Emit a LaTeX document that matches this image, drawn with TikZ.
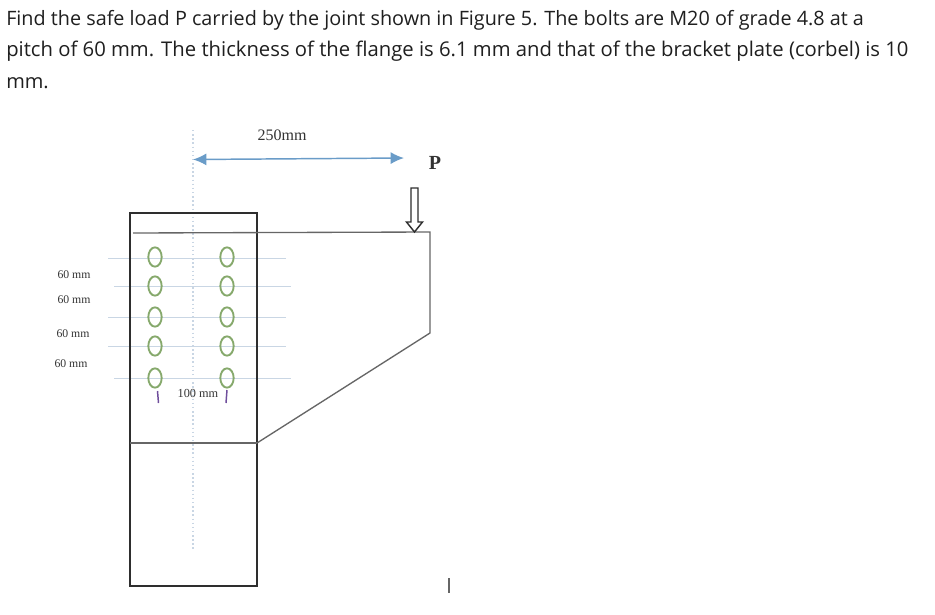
\documentclass[tikz,border=0pt]{standalone}
\usepackage{fontspec}
\setmainfont{Liberation Serif}
\newfontfamily\headfont{Open Sans}
\usetikzlibrary{arrows.meta,shapes.geometric}
\definecolor{boltgreen}{HTML}{86A96C}
\definecolor{gridblue}{HTML}{C9D6E4}
\definecolor{dimblue}{HTML}{6A9CC8}
\definecolor{markpurple}{HTML}{6F4E9C}
\definecolor{ink}{HTML}{2E2E2E}
\tikzset{
  heading/.style={anchor=base west,inner sep=0pt,text=black!88},
  bolt/.style={ellipse,draw=boltgreen,line width=1.4pt,minimum width=10pt,minimum height=14.5pt,inner sep=0pt},
  gridline/.style={draw=gridblue,line width=0.7pt},
  centreline/.style={draw=gridblue,line width=1.1pt,dotted},
  plate/.style={draw=ink,line width=1.5pt},
  thinplate/.style={draw=black!60,line width=1pt},
  pitchlabel/.style={font=\fontsize{8.8pt}{10pt}\selectfont,inner sep=0pt,text=black!80},
  dimlabel/.style={font=\fontsize{12pt}{14pt}\selectfont,inner sep=0pt,text=black!80},
  tick/.style={draw=markpurple,line width=1.1pt},
}
\begin{document}
\begin{tikzpicture}[x=0.75pt,y=-0.75pt]
\useasboundingbox (0,0) rectangle (935,614);
\fill[white] (0,0) rectangle (935,614);
% statement
\node[heading,font=\headfont\fontsize{14.85pt}{16pt}\selectfont] (t1) at (6,25) {Find the safe load P carried by the joint shown in Figure 5. The bolts are M20 of grade 4.8 at a};
\node[heading,font=\headfont\fontsize{15.2pt}{16pt}\selectfont] (t2) at (6,56) {pitch of 60 mm. The thickness of the flange is 6.1 mm and that of the bracket plate (corbel) is 10};
\node[heading,font=\headfont\fontsize{15pt}{16pt}\selectfont] (t3) at (6,88) {mm.};
% centre line
\coordinate (ctop) at (193,130);
\coordinate (cbot) at (193,550);
\draw[centreline] (ctop) -- (cbot);
% horizontal bolt lines
\foreach \n/\y/\a/\b in {1/258/108/286,2/286/114/291,3/317/108/286,4/346/108/286,5/378/114/291}{
  \coordinate (gl\n) at (\a,\y);
  \coordinate (gr\n) at (\b,\y);
  \draw[gridline] (gl\n) -- (gr\n);
}
% flange
\coordinate (fa) at (130,213);
\coordinate (fb) at (257,213);
\coordinate (fc) at (257,586);
\coordinate (fd) at (130,586);
\coordinate (fe) at (130,443);
\coordinate (ff) at (257,443);
\draw[plate,line join=miter] (fa) -- (fb) -- (fc) -- (fd) -- cycle;
\draw[thinplate] (fe) -- (ff);
% corbel
\coordinate (ca) at (133,233);
\coordinate (cb) at (430,232);
\coordinate (cc) at (430,333);
\draw[thinplate,line join=miter] (ca) -- (cb) -- (cc) -- (ff);
% bolts
\foreach \n/\y in {1/257,2/286,3/317,4/346,5/378}{
  \node[bolt] (bl\n) at (155,\y) {};
  \node[bolt] (br\n) at (227,\y) {};
}
% pitch labels
\node[pitchlabel] (p1) at (74,275) {60 mm};
\node[pitchlabel] (p2) at (74,300) {60 mm};
\node[pitchlabel] (p3) at (73,333.5) {60 mm};
\node[pitchlabel] (p4) at (71,364) {60 mm};
% 100 mm
\node[pitchlabel,font=\fontsize{9.2pt}{10pt}\selectfont] (w) at (198,393) {100 mm};
\coordinate (m1a) at (157.5,391); \coordinate (m1b) at (158.5,403);
\coordinate (m2a) at (227,390); \coordinate (m2b) at (226,403);
\draw[tick] (m1a) -- (m1b);
\draw[tick] (m2a) -- (m2b);
% 250 mm dimension
\node[dimlabel] (d) at (282,135) {250mm};
\coordinate (da) at (193,159.5);
\coordinate (db) at (404,158);
\draw[dimblue,line width=1.1pt,{Latex[length=10pt,width=9pt]}-{Latex[length=10pt,width=9pt]}] (da) -- (db);
% load
\node[font=\bfseries\fontsize{15pt}{16pt}\selectfont,inner sep=0pt,text=black!80] (P) at (435,163) {P};
\coordinate (la) at (414.5,188);
\draw[ink,line width=1.1pt,line join=miter] (la) ++(-3.5,0) -- ++(0,34) -- ++(-4.5,0) -- ++(8,10) -- ++(8,-10) -- ++(-4.5,0) -- ++(0,-34) -- cycle;
% stray mark
\coordinate (sa) at (449,578);
\coordinate (sb) at (449,593);
\draw[black!60,line width=1pt] (sa) -- (sb);
\end{tikzpicture}
\end{document}
